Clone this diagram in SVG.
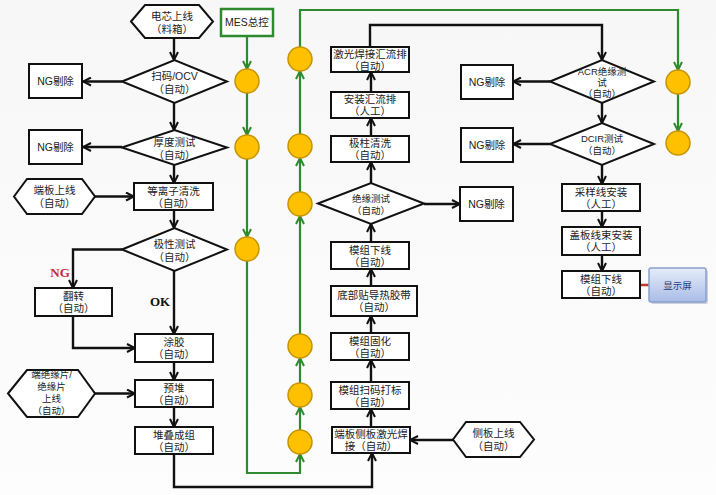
<svg xmlns="http://www.w3.org/2000/svg" width="716" height="495" viewBox="0 0 716 495">
<defs>
<style>
.n{fill:#fff;stroke:#111;stroke-width:2}
.t{font-family:"Liberation Sans","Noto Sans CJK SC",sans-serif;font-size:10.5px;fill:#222;text-anchor:middle}
.s{font-size:9.5px}
.k{fill:none;stroke:#111;stroke-width:2.4;marker-end:url(#ab)}
.g{fill:none;stroke:#2f8a2f;stroke-width:2.2;marker-end:url(#ag)}
.c{fill:#FFC000;stroke:#c59400;stroke-width:1.5}
</style>
<marker id="ab" viewBox="0 0 10 10" refX="9" refY="5" markerWidth="10" markerHeight="10" markerUnits="userSpaceOnUse" orient="auto"><path d="M1,1 L9,5 L1,9" fill="none" stroke="#111" stroke-width="2"/></marker>
<marker id="ag" viewBox="0 0 10 10" refX="9" refY="5" markerWidth="10" markerHeight="10" markerUnits="userSpaceOnUse" orient="auto"><path d="M1,1 L9,5 L1,9" fill="none" stroke="#2f8a2f" stroke-width="2"/></marker>
<linearGradient id="bl" x1="0" y1="0" x2="0" y2="1"><stop offset="0" stop-color="#e6edfa"/><stop offset="1" stop-color="#a8bce6"/></linearGradient>
<linearGradient id="bg" x1="0" y1="0" x2="0" y2="1"><stop offset="0" stop-color="#f7f7f7"/><stop offset="1" stop-color="#fdfdfd"/></linearGradient>
</defs>
<rect width="716" height="495" fill="url(#bg)"/>

<g id="connectors">
<path class="k" d="M174,38 V60"/>
<path class="k" d="M122,81.5 H83"/>
<path class="k" d="M174,103 V130"/>
<path class="k" d="M122,147 H83"/>
<path class="k" d="M174,165 V183"/>
<path class="k" d="M95,196.5 H134"/>
<path class="k" d="M174,210 V228"/>
<path class="k" d="M122,249.5 H73 V288"/>
<path class="k" d="M174,271 V334"/>
<path class="k" d="M73,316 V348 H135"/>
<path class="k" d="M174,362 V380"/>
<path class="k" d="M95,393.5 H135"/>
<path class="k" d="M174,407 V427"/>
<path class="k" d="M174,454 V487 H372 V453"/>
<path class="k" d="M453,440 H410"/>
<path class="k" d="M371,427 V409"/>
<path class="k" d="M371,382 V360"/>
<path class="k" d="M371,333 V316"/>
<path class="k" d="M371,286 V269"/>
<path class="k" d="M371,242 V224"/>
<path class="k" d="M424,204 H460"/>
<path class="k" d="M371,183 V162"/>
<path class="k" d="M371,136 V118"/>
<path class="k" d="M371,92 V72"/>
<path class="k" d="M370,47 V25 H602 V60"/>
<path class="k" d="M550,81.5 H513"/>
<path class="k" d="M602,103 V123"/>
<path class="k" d="M550,144 H513"/>
<path class="k" d="M602,165 V184"/>
<path class="k" d="M602,211 V227"/>
<path class="k" d="M602,255 V271"/>
<path d="M640,285 H649" stroke="#c0392b" stroke-width="2.5"/>
<path class="g" d="M247,36 V69"/>
<path class="g" d="M247,93 V135"/>
<path class="g" d="M247,159 V237"/>
<path class="g" d="M247,261 V473 H300 V454"/>
<path class="g" d="M300,430 V407"/>
<path class="g" d="M300,383 V358"/>
<path class="g" d="M300,334 V216"/>
<path class="g" d="M300,192 V158"/>
<path class="g" d="M300,134 V71"/>
<path class="g" d="M300,47 V10 H678 V70"/>
<path class="g" d="M678,94 V131"/>
<text x="60" y="277" style="font-family:'Liberation Serif',serif;font-weight:bold;font-size:13px;fill:#c8283c;text-anchor:middle">NG</text>
<text x="160" y="306" style="font-family:'Liberation Serif',serif;font-weight:bold;font-size:13px;fill:#111;text-anchor:middle">OK</text>
</g>

<g id="mes"><rect x="221" y="9" width="52" height="27" fill="#fff" stroke="#2f8a2f" stroke-width="2.5"/><text class="t" x="247" y="26">MES总控</text></g>
<g id="circles">
<circle class="c" cx="247" cy="81" r="12"/>
<circle class="c" cx="247" cy="147" r="12"/>
<circle class="c" cx="247" cy="249" r="12"/>
<circle class="c" cx="300" cy="442" r="12"/>
<circle class="c" cx="300" cy="395" r="12"/>
<circle class="c" cx="300" cy="346" r="12"/>
<circle class="c" cx="300" cy="204" r="12"/>
<circle class="c" cx="300" cy="146" r="12"/>
<circle class="c" cx="300" cy="59" r="12"/>
<circle class="c" cx="678" cy="82" r="12"/>
<circle class="c" cx="678" cy="143" r="12"/>
</g>

<g id="n1"><polygon class="n" points="131,21.5 145,5 199,5 213,21.5 199,38 145,38"/><text class="t" x="172" y="20">电芯上线</text><text class="t" x="172" y="33">（料箱）</text></g>
<g id="n2"><polygon class="n" points="122,81.5 174.5,60 227,81.5 174.5,103"/><text class="t" x="174.5" y="80">扫码/OCV</text><text class="t" x="174.5" y="93">（自动）</text></g>
<g id="ng1"><rect class="n" x="29" y="64" width="53" height="34"/><text class="t" x="55.5" y="85">NG剔除</text></g>
<g id="n3"><polygon class="n" points="122,147.5 174.5,130 227,147.5 174.5,165"/><text class="t" x="174.5" y="146">厚度测试</text><text class="t" x="174.5" y="159">（自动）</text></g>
<g id="ng2"><rect class="n" x="29" y="130" width="53" height="34"/><text class="t" x="55.5" y="151">NG剔除</text></g>
<g id="n4"><rect class="n" x="134" y="183" width="79" height="27"/><text class="t" x="173.5" y="195">等离子清洗</text><text class="t" x="173.5" y="207">（自动）</text></g>
<g id="h1"><polygon class="n" points="14,196.5 27,179 82,179 95,196.5 82,214 27,214"/><text class="t" x="54.5" y="194">端板上线</text><text class="t" x="54.5" y="207">（自动）</text></g>
<g id="n5"><polygon class="n" points="122,249.5 174.5,228 227,249.5 174.5,271"/><text class="t" x="174.5" y="248">极性测试</text><text class="t" x="174.5" y="261">（自动）</text></g>
<g id="n6"><rect class="n" x="35" y="288" width="77" height="28"/><text class="t" x="73.5" y="300">翻转</text><text class="t" x="73.5" y="312">（自动）</text></g>
<g id="n7"><rect class="n" x="135" y="334" width="78" height="28"/><text class="t" x="174" y="346">涂胶</text><text class="t" x="174" y="358">（自动）</text></g>
<g id="h2"><polygon class="n" points="8,393.5 27,370 78,370 95,393.5 78,417 27,417"/><text class="t s" x="51.5" y="378">端绝缘片/</text><text class="t s" x="51.5" y="390">绝缘片</text><text class="t s" x="51.5" y="402">上线</text><text class="t s" x="51.5" y="414">（自动）</text></g>
<g id="n8"><rect class="n" x="135" y="380" width="78" height="27"/><text class="t" x="174" y="392">预堆</text><text class="t" x="174" y="404">（自动）</text></g>
<g id="n9"><rect class="n" x="135" y="427" width="78" height="27"/><text class="t" x="174" y="439">堆叠成组</text><text class="t" x="174" y="451">（自动）</text></g>

<g id="m1"><rect class="n" x="332" y="427" width="78" height="26"/><text class="t" x="371" y="438">端板侧板激光焊</text><text class="t" x="371" y="450">接（自动）</text></g>
<g id="h3"><polygon class="n" points="453,439.5 466,422 520,422 534,439.5 520,457 466,457"/><text class="t" x="493.5" y="437">侧板上线</text><text class="t" x="493.5" y="450">（自动）</text></g>
<g id="m2"><rect class="n" x="331" y="382" width="78" height="27"/><text class="t" x="370" y="394">模组扫码打标</text><text class="t" x="370" y="406">（自动）</text></g>
<g id="m3"><rect class="n" x="331" y="333" width="78" height="27"/><text class="t" x="370" y="345">模组固化</text><text class="t" x="370" y="357">（自动）</text></g>
<g id="m4"><rect class="n" x="331" y="286" width="86" height="30"/><text class="t" x="374" y="299">底部贴导热胶带</text><text class="t" x="374" y="311">（自动）</text></g>
<g id="m5"><rect class="n" x="331" y="242" width="78" height="27"/><text class="t" x="370" y="254">模组下线</text><text class="t" x="370" y="266">（自动）</text></g>
<g id="m6"><polygon class="n" points="318,203.5 371,183 424,203.5 371,224"/><text class="t s" x="371" y="202">绝缘测试</text><text class="t s" x="371" y="214">（自动）</text></g>
<g id="ng3"><rect class="n" x="460" y="187" width="53" height="34"/><text class="t" x="486.5" y="208">NG剔除</text></g>
<g id="m7"><rect class="n" x="331" y="136" width="78" height="26"/><text class="t" x="370" y="147">极柱清洗</text><text class="t" x="370" y="159">（自动）</text></g>
<g id="m8"><rect class="n" x="331" y="92" width="78" height="26"/><text class="t" x="370" y="103">安装汇流排</text><text class="t" x="370" y="115">（人工）</text></g>
<g id="m9"><rect class="n" x="331" y="47" width="78" height="25"/><text class="t" x="370" y="58">激光焊接汇流排</text><text class="t" x="370" y="70">（自动）</text></g>

<g id="r1"><polygon class="n" points="550,81.5 602,60 654,81.5 602,103"/><text class="t s" x="602" y="75">ACR绝缘测</text><text class="t s" x="602" y="86">试</text><text class="t s" x="602" y="97">（自动）</text></g>
<g id="ng4"><rect class="n" x="461" y="65" width="52" height="34"/><text class="t" x="487" y="86">NG剔除</text></g>
<g id="r2"><polygon class="n" points="550,144 602,123 654,144 602,165"/><text class="t s" x="602" y="142">DCIR测试</text><text class="t s" x="602" y="154">（自动）</text></g>
<g id="ng5"><rect class="n" x="461" y="128" width="52" height="34"/><text class="t" x="487" y="149">NG剔除</text></g>
<g id="r3"><rect class="n" x="562" y="184" width="78" height="27"/><text class="t" x="601" y="196">采样线安装</text><text class="t" x="601" y="208">（人工）</text></g>
<g id="r4"><rect class="n" x="562" y="227" width="78" height="28"/><text class="t" x="601" y="239">盖板线束安装</text><text class="t" x="601" y="251">（人工）</text></g>
<g id="r5"><rect class="n" x="562" y="271" width="78" height="27"/><text class="t" x="601" y="283">模组下线</text><text class="t" x="601" y="295">（自动）</text></g>
<g id="screen"><rect x="651" y="270" width="57" height="34" rx="2" fill="#9aa7bd" opacity="0.5"/><rect x="649" y="268" width="57" height="34" rx="2" fill="url(#bl)" stroke="#8aa0cc" stroke-width="1.5"/><text class="t s" x="677.5" y="289" style="fill:#1f3a7a">显示屏</text></g>
</svg>
